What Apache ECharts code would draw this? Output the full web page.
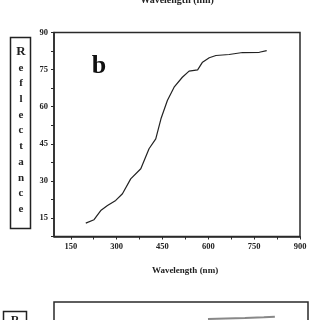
<!DOCTYPE html>
<html>
<head>
<meta charset="utf-8">
<script src="https://cdn.jsdelivr.net/npm/echarts@6/dist/echarts.min.js"></script>
<style>
  html, body { margin: 0; padding: 0; background: #fff; }
  #chart { width: 320px; height: 320px; }
</style>
</head>
<body>
<div id="chart"></div>
<script>
// wavelength (nm) vs reflectance
var wavelength = [199, 226, 248, 270, 297, 319, 346, 379, 406, 428, 445, 466, 488, 515, 537, 565, 581, 603, 625, 668, 712, 767, 791];
var reflectance = [12.9, 14.3, 18.0, 20.0, 22.1, 24.8, 30.8, 34.9, 43.0, 47.0, 55.1, 62.5, 67.9, 71.9, 74.4, 74.9, 78.0, 79.8, 80.7, 81.1, 81.9, 82.0, 82.7];
var xLabels = [150, 300, 450, 600, 750, 900];
var xTicks = [150, 225, 300, 375, 450, 525, 600, 675, 750, 825, 900];
// the next panel, only its top edge shows
var nextX = [583, 640, 700, 760, 795];
var nextY = [82.4, 82.6, 82.8, 83.1, 83.4];

var labelFont = { fontFamily: "Liberation Serif", fontWeight: "bold", fontSize: 8.5, color: "#222" };
var ink = "#2a2a2a";

var chart = echarts.init(document.getElementById("chart"));
var pts = wavelength.map(function (w, i) { return [w, reflectance[i]]; });
var pts2 = nextX.map(function (w, i) { return [w, nextY[i]]; });

chart.setOption({
  animation: false,
  backgroundColor: "#fff",
  grid: [
    { left: 54, right: 20, top: 32.5, height: 204, show: true, borderColor: ink, borderWidth: 1.5 },
    { left: 54, right: 12, top: 302, height: 200, outerBoundsMode: "none", show: true, borderColor: ink, borderWidth: 1.5 }
  ],
  xAxis: [
    {
      gridIndex: 0,
      type: "value",
      min: 95,
      max: 900,
      splitLine: { show: false },
      axisLine: { lineStyle: { color: ink, width: 1.5 } },
      axisTick: { customValues: xTicks, length: 3, lineStyle: { color: ink } },
      axisLabel: Object.assign({ customValues: xLabels, margin: 6 }, labelFont)
    },
    {
      gridIndex: 1,
      type: "value",
      min: 95,
      max: 900,
      show: false
    }
  ],
  yAxis: [
    {
      gridIndex: 0,
      type: "value",
      min: 7.5,
      max: 90,
      interval: 7.5,
      splitLine: { show: false },
      axisLine: { show: true, lineStyle: { color: ink, width: 1.5 } },
      axisTick: { show: true, length: 3, lineStyle: { color: ink } },
      axisLabel: Object.assign({
        margin: 6,
        formatter: function (v) { return v % 15 === 0 ? String(v) : ""; }
      }, labelFont)
    },
    {
      gridIndex: 1,
      type: "value",
      min: 0,
      max: 90,
      show: false
    }
  ],
  series: [
    {
      type: "line",
      xAxisIndex: 0,
      yAxisIndex: 0,
      data: pts,
      showSymbol: false,
      lineStyle: { color: "#222", width: 1.2 }
    },
    {
      type: "line",
      xAxisIndex: 1,
      yAxisIndex: 1,
      data: pts2,
      showSymbol: false,
      lineStyle: { color: "#888", width: 2 }
    }
  ],
  graphic: [
    // cut-off axis title of the panel above
    { type: "text", x: 177, y: 0, style: { text: "Wavelength (nm)", font: "bold 10px 'Liberation Serif'", fill: "#222", align: "center", verticalAlign: "middle" } },
    { type: "text", x: 185, y: 271, style: { text: "Wavelength (nm)", font: "bold 9px 'Liberation Serif'", fill: "#222", align: "center", verticalAlign: "middle" } },
    { type: "text", x: 99, y: 66, style: { text: "b", font: "bold 26px 'Liberation Serif'", fill: "#111", align: "center", verticalAlign: "middle" } },
    { type: "rect", shape: { x: 10.5, y: 37.5, width: 20, height: 191 }, style: { fill: "none", stroke: "#222", lineWidth: 1.5 } },
    { type: "text", x: 21, y: 51.5, style: { text: "R", font: "bold 13px 'Liberation Serif'", fill: "#222", align: "center", verticalAlign: "middle" } },
    { type: "text", x: 21, y: 60, style: { text: "e\nf\nl\ne\nc\nt\na\nn\nc\ne", font: "bold 11px 'Liberation Serif'", lineHeight: 15.7, fill: "#222", align: "center", verticalAlign: "top" } },
    // left label box of the next panel
    { type: "rect", shape: { x: 3.5, y: 311.5, width: 23, height: 30 }, style: { fill: "none", stroke: "#222", lineWidth: 1.5 } },
    { type: "text", x: 15, y: 321, style: { text: "R", font: "bold 12px 'Liberation Serif'", fill: "#222", align: "center", verticalAlign: "middle" } }
  ]
});
</script>
</body>
</html>
